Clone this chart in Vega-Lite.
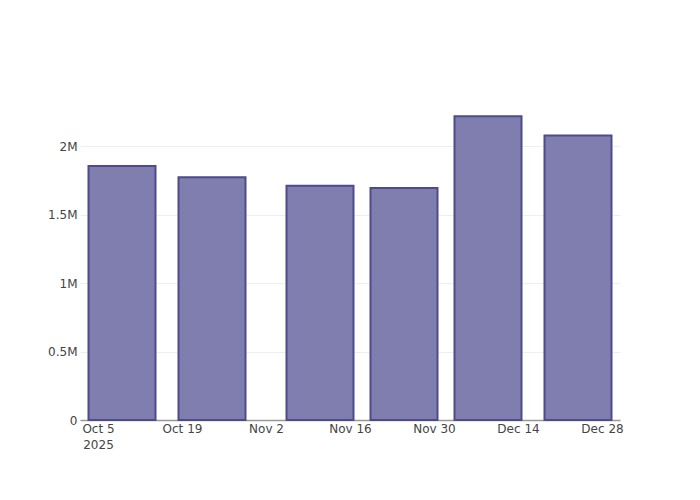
{
  "$schema": "https://vega.github.io/schema/vega-lite/v6.json",
  "width": 540,
  "height": 320,
  "autosize": {"type": "none"},
  "padding": {"left": 80, "top": 100, "right": 80, "bottom": 80},
  "background": "white",
  "config": {
    "view": {"stroke": null},
    "font": "DejaVu Sans"
  },
  "data": {
    "values": [
      {"date": "2025-10-09", "value": 1856000},
      {"date": "2025-10-24", "value": 1773000},
      {"date": "2025-11-11", "value": 1712000},
      {"date": "2025-11-25", "value": 1695000},
      {"date": "2025-12-09", "value": 2219000},
      {"date": "2025-12-24", "value": 2078000}
    ]
  },
  "mark": {
    "type": "bar",
    "size": 67,
    "fill": "#7f7eaf",
    "stroke": "#4e4b8b",
    "strokeWidth": 2
  },
  "encoding": {
    "x": {
      "field": "date",
      "type": "temporal",
      "scale": {
        "type": "utc",
        "domain": [
          {"year": 2025, "month": 10, "date": 2, "utc": true},
          {"year": 2025, "month": 12, "date": 31, "utc": true}
        ],
        "nice": false,
        "padding": 0
      },
      "axis": {
        "title": null,
        "values": [
          {"year": 2025, "month": 10, "date": 5, "utc": true},
          {"year": 2025, "month": 10, "date": 19, "utc": true},
          {"year": 2025, "month": 11, "date": 2, "utc": true},
          {"year": 2025, "month": 11, "date": 16, "utc": true},
          {"year": 2025, "month": 11, "date": 30, "utc": true},
          {"year": 2025, "month": 12, "date": 14, "utc": true},
          {"year": 2025, "month": 12, "date": 28, "utc": true}
        ],
        "labelExpr": "datum.index == 0 ? [utcFormat(datum.value, '%b %-d'), utcFormat(datum.value, '%Y')] : utcFormat(datum.value, '%b %-d')",
        "grid": false,
        "ticks": false,
        "domainColor": "#999999",
        "domainWidth": 1.5,
        "labelColor": "#444444",
        "labelFontSize": 12,
        "labelPadding": 3,
        "labelAngle": 0,
        "labelAlign": "center",
        "labelBaseline": "top",
        "labelLineHeight": 16,
        "labelFlush": false,
        "labelOverlap": false
      }
    },
    "y": {
      "field": "value",
      "type": "quantitative",
      "scale": {"domain": [0, 2338000], "nice": false, "zero": true},
      "axis": {
        "title": null,
        "values": [0, 500000, 1000000, 1500000, 2000000],
        "labelExpr": "datum.value == 0 ? '0' : (datum.value / 1000000) + 'M'",
        "domain": false,
        "ticks": false,
        "grid": true,
        "gridColor": "#eeeeee",
        "gridWidth": 1,
        "labelColor": "#444444",
        "labelFontSize": 12,
        "labelPadding": 3
      }
    }
  }
}
